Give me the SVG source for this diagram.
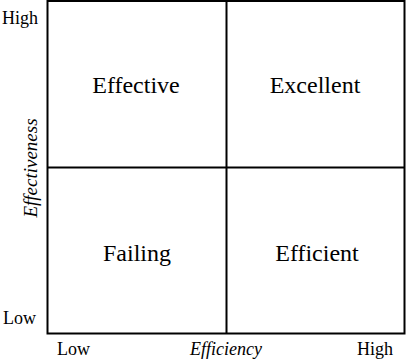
<svg xmlns="http://www.w3.org/2000/svg" width="407" height="361" viewBox="0 0 407 361">
<style>
text{font-family:"Liberation Serif","Times New Roman",serif;fill:#000}
.ax{font-size:18px}
.q{font-size:24px;text-anchor:middle}
.it{font-style:italic;font-size:18px;text-anchor:middle}
.ln{stroke:#000;stroke-width:2;fill:none}
</style>
<rect width="407" height="361" fill="#fff"/>
<g id="connectors">
<rect class="ln" x="47.5" y="1" width="357" height="332.5"/>
<line class="ln" x1="226.5" y1="1" x2="226.5" y2="333.5"/>
<line class="ln" x1="47.5" y1="167.5" x2="404.5" y2="167.5"/>
</g>
<g id="effective"><text class="q" x="136" y="93">Effective</text></g>
<g id="excellent"><text class="q" x="315" y="93">Excellent</text></g>
<g id="failing"><text class="q" x="137" y="261">Failing</text></g>
<g id="efficient"><text class="q" x="317" y="261">Efficient</text></g>
<g id="axes">
<text class="ax" x="2" y="24">High</text>
<text class="ax" x="3" y="324">Low</text>
<text class="ax" x="57" y="355">Low</text>
<text class="ax" x="357" y="355">High</text>
<text class="it" x="226" y="355">Efficiency</text>
<text class="it" style="font-size:19px" transform="translate(37,168) rotate(-90)">Effectiveness</text>
</g>
</svg>
